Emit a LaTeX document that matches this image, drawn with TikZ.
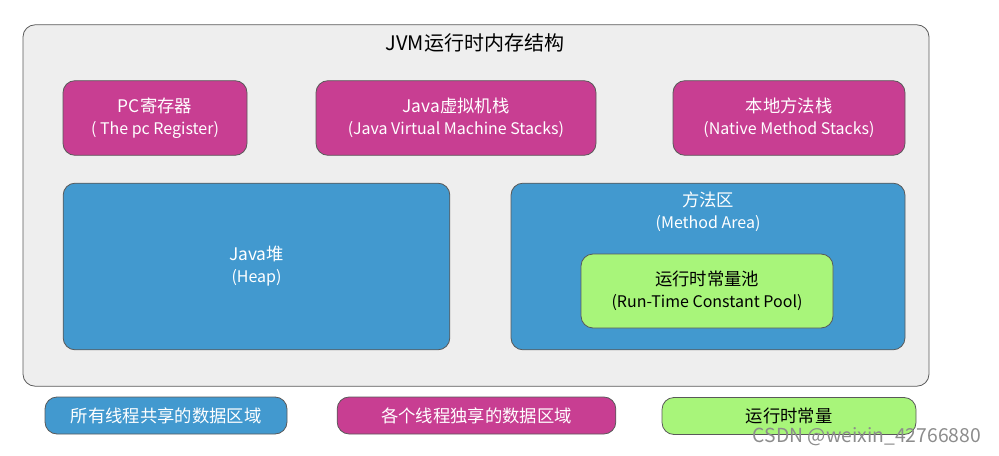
\documentclass[tikz,border=0pt]{standalone}
\usepackage{fontspec}
\setmainfont{Noto Sans CJK SC}
\usepackage{tikz}

\definecolor{privmag}{RGB}{200,62,146}
\definecolor{sharedblue}{RGB}{66,153,207}
\definecolor{constgreen}{RGB}{168,245,122}
\definecolor{areagray}{RGB}{238,238,238}

% Chinese name on top, English name below.
\newcommand{\twoline}[2]{{\fontsize{13}{16.5}\selectfont #1}\\#2}

\begin{document}
\begin{tikzpicture}[
  x=0.75pt, y=-0.75pt,
  region/.style={draw=black!65, line width=0.6pt, rounded corners=9pt,
    align=center, inner sep=0pt, font=\fontsize{12}{16.5}\selectfont},
  private/.style={region, fill=privmag, text=white},
  shared/.style={region, fill=sharedblue, text=white},
  constpool/.style={region, fill=constgreen, text=black},
  legend/.style={minimum height=27.75pt, font=\fontsize{13}{16}\selectfont}
]
  \useasboundingbox (0,0) rectangle (999,456);

  % Whole runtime area, title on top.
  \node[region, fill=areagray, minimum width=679.5pt, minimum height=271pt]
    (jvm) at (476,205.5) {};
  \node[font=\fontsize{15}{18}\selectfont] (title) at (475,43) {JVM运行时内存结构};

  % Per-thread areas.
  \node[private, minimum width=138pt, minimum height=56pt] (pc) at (155,118)
    {\twoline{PC寄存器}{( The pc Register)}};
  \node[private, minimum width=210pt, minimum height=56pt] (vmstack) at (456,118)
    {\twoline{Java虚拟机栈}{(Java Virtual Machine Stacks)}};
  \node[private, minimum width=174pt, minimum height=56pt] (native) at (789,118)
    {\twoline{本地方法栈}{(Native Method Stacks)}};

  % Shared areas.
  \node[shared, minimum width=290pt, minimum height=125pt] (heap) at (256.5,266.5)
    {\twoline{Java堆}{(Heap)}};
  \node[shared, minimum width=295.5pt, minimum height=125pt] (method) at (708,266.5) {};
  \node[text=white, align=center, font=\fontsize{12}{16.5}\selectfont]
    (methodlabel) at (708,212) {\twoline{方法区}{(Method Area)}};
  \node[constpool, minimum width=189pt, minimum height=55.5pt] (pool) at (707,291)
    {\twoline{运行时常量池}{(Run-Time Constant Pool)}};

  % Legend
  \node[shared, legend, minimum width=181.5pt] (keyshared) at (166,415.5)
    {所有线程共享的数据区域};
  \node[private, legend, minimum width=209pt] (keyprivate) at (476.5,415.5)
    {各个线程独享的数据区域};
  \node[constpool, legend, minimum width=190.5pt] (keyconst) at (789,416)
    {运行时常量};

  \node[text=black!45, font=\fontsize{14.5}{17}\selectfont] (mark) at (867,437)
    {CSDN @weixin\_42766880};
\end{tikzpicture}
\end{document}
